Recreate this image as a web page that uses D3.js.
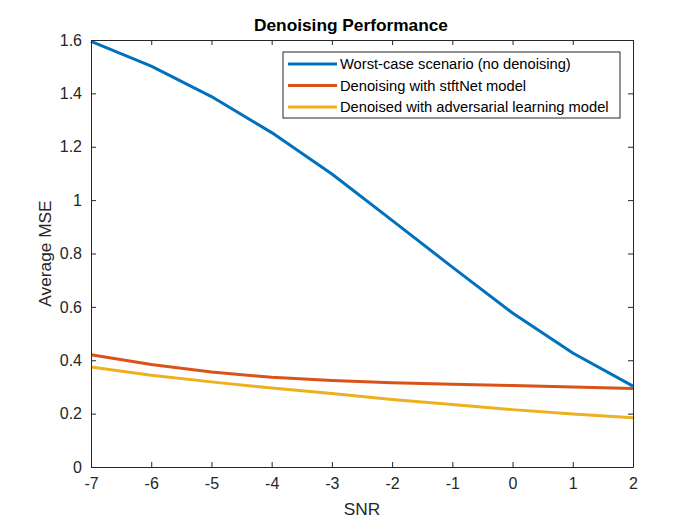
<!DOCTYPE html>
<html>
<head>
<meta charset="utf-8">
<script src="https://cdn.jsdelivr.net/npm/d3@7"></script>
<style>
  body { margin: 0; background: #fff; }
  svg { font-family: "Liberation Sans", Arial, sans-serif; }
</style>
</head>
<body>
<script>
// data
let snr = [-7, -6, -5, -4, -3, -2, -1, 0, 1, 2]
let worstCase = [1.595, 1.502, 1.388, 1.253, 1.098, 0.924, 0.749, 0.577, 0.427, 0.303]
let stftNet = [0.421, 0.384, 0.356, 0.336, 0.324, 0.316, 0.310, 0.305, 0.300, 0.294]
let adversarial = [0.375, 0.344, 0.319, 0.296, 0.275, 0.253, 0.234, 0.215, 0.199, 0.185]
let seriesNames = ['Worst-case scenario (no denoising)', 'Denoising with stftNet model', 'Denoised with adversarial learning model']
let seriesColors = ['#0072BD', '#D95319', '#EDB120']
let yTicks = [0, 0.2, 0.4, 0.6, 0.8, 1, 1.2, 1.4, 1.6]

let width = 700
let height = 525
let plotLeft = 91, plotRight = 633, plotTop = 40, plotBottom = 467

let series = [worstCase, stftNet, adversarial].map((vals, i) => ({
  name: seriesNames[i],
  color: seriesColors[i],
  points: vals.map((v, j) => ({ x: snr[j], y: v }))
}))

let svg = d3.select('body').append('svg')
  .attr('width', width)
  .attr('height', height)

let xScale = d3.scaleLinear().domain([-7, 2]).range([plotLeft, plotRight])
let yScale = d3.scaleLinear().domain([0, 1.6]).range([plotBottom, plotTop])

// lines
let line = d3.line().x(d => xScale(d.x)).y(d => yScale(d.y))
svg.selectAll('.series')
  .data(series)
  .enter()
  .append('path')
  .attr('class', 'series')
  .attr('d', d => line(d.points))
  .attr('fill', 'none')
  .attr('stroke', d => d.color)
  .attr('stroke-width', 3)
  .attr('stroke-linejoin', 'round')

// axes (matlab style, inward ticks, box)
let fmt = d => String(d)
let styleAxis = g => {
  g.select('.domain').attr('stroke', '#262626')
  g.selectAll('.tick line').attr('stroke', '#262626')
  g.selectAll('.tick text').attr('fill', '#262626').style('font-size', '16px')
}

svg.append('g')
  .attr('transform', `translate(0, ${plotBottom})`)
  .call(d3.axisBottom(xScale).tickValues(snr).tickFormat(fmt).tickSizeInner(-5).tickSizeOuter(0).tickPadding(11))
  .call(styleAxis)

svg.append('g')
  .attr('transform', `translate(0, ${plotTop})`)
  .call(d3.axisTop(xScale).tickValues(snr).tickFormat('').tickSizeInner(-5).tickSizeOuter(0))
  .call(styleAxis)

svg.append('g')
  .attr('transform', `translate(${plotLeft}, 0)`)
  .call(d3.axisLeft(yScale).tickValues(yTicks).tickFormat(fmt).tickSizeInner(-5).tickSizeOuter(0).tickPadding(9))
  .call(styleAxis)

svg.append('g')
  .attr('transform', `translate(${plotRight}, 0)`)
  .call(d3.axisRight(yScale).tickValues(yTicks).tickFormat('').tickSizeInner(-5).tickSizeOuter(0))
  .call(styleAxis)

// labels
svg.append('text')
  .attr('x', 351)
  .attr('y', 31)
  .attr('text-anchor', 'middle')
  .style('font-size', '17.3px')
  .style('font-weight', 'bold')
  .attr('fill', '#000')
  .text('Denoising Performance')

svg.append('text')
  .attr('x', (plotLeft + plotRight) / 2)
  .attr('y', 515)
  .attr('text-anchor', 'middle')
  .style('font-size', '17.3px')
  .attr('fill', '#262626')
  .text('SNR')

svg.append('text')
  .attr('transform', `translate(51, ${(plotTop + plotBottom) / 2}) rotate(-90)`)
  .attr('text-anchor', 'middle')
  .style('font-size', '17.3px')
  .attr('fill', '#262626')
  .text('Average MSE')

// legend
let legend = svg.append('g').attr('transform', 'translate(283, 52)')
legend.append('rect')
  .attr('width', 337)
  .attr('height', 66)
  .attr('fill', '#fff')
  .attr('stroke', '#262626')
  .attr('stroke-width', 1)

let rows = legend.selectAll('.row')
  .data(series)
  .enter()
  .append('g')
  .attr('class', 'row')
  .attr('transform', (d, i) => `translate(0, ${12 + i * 21.5})`)

rows.append('line')
  .attr('x1', 5).attr('x2', 54)
  .attr('stroke', d => d.color)
  .attr('stroke-width', 3)

rows.append('text')
  .attr('x', 57)
  .attr('y', 5)
  .style('font-size', '14.7px')
  .attr('fill', '#000')
  .text(d => d.name)
</script>
</body>
</html>
